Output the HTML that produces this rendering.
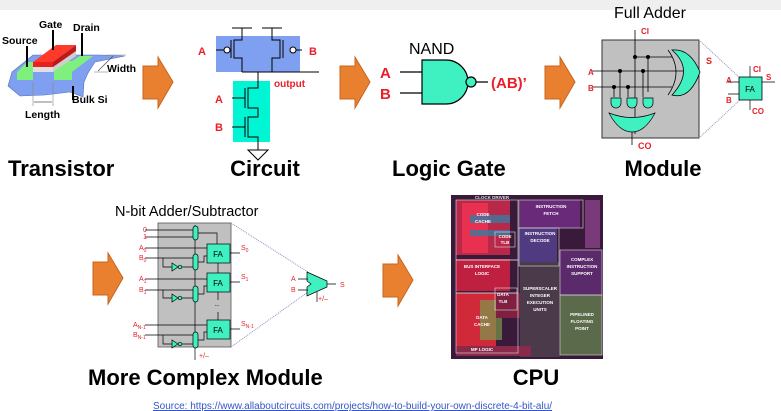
<!DOCTYPE html>
<html><head><meta charset="utf-8"><style>
html,body{margin:0;padding:0;background:#fff;width:781px;height:411px;overflow:hidden}
svg{display:block}
text{font-family:"Liberation Sans",sans-serif}
.big{font-weight:bold;font-size:22px;fill:#000}
.r{fill:#e8202a;font-weight:bold}
</style></head><body>
<svg width="781" height="411" viewBox="0 0 781 411" xmlns="http://www.w3.org/2000/svg">
<rect x="0" y="0" width="781" height="10" fill="#efefef"/>
<defs>
<polygon id="arr" points="0,9 15,9 15,0 30,25 15,51 15,42 0,42" fill="#e8802f" stroke="#c8641c" stroke-width="1"/>
</defs>
<use href="#arr" x="143" y="57"/>
<use href="#arr" x="340" y="57"/>
<use href="#arr" x="545" y="57"/>
<use href="#arr" x="93" y="253"/>
<use href="#arr" x="383" y="255"/>

<!-- Transistor -->
<path d="M12,72 L22,64 L33,55 L100,55 L125,56 L95,62 L88,73 L84,82 L83,97 L70,92 L45,95 L20,96 L8,86 Z" fill="#7f9ff0" stroke="#5570c0" stroke-width="0.6"/>
<polygon points="17,72 33,72 33,62 27,62" fill="#7ef07e"/>
<rect x="17" y="72" width="16" height="8" fill="#7ef07e"/>
<polygon points="54,72 72,72 93,56 80,56 72,61 54,61" fill="#7ef07e"/>
<rect x="54" y="72" width="18" height="8" fill="#7ef07e"/>
<rect x="33" y="67" width="20" height="5" fill="#e0e0e0"/>
<polygon points="53,67 53,72 76,56 76,51" fill="#cfcfcf"/>
<polygon points="33,62 53,62 76,45 56,45" fill="#ff3a2a"/>
<rect x="33" y="62" width="20" height="5" fill="#e82020"/>
<polygon points="53,62 76,45 76,51 53,67" fill="#c01818"/>
<line x1="27" y1="46" x2="27" y2="67" stroke="#000" stroke-width="2"/>
<line x1="53" y1="30" x2="53" y2="50" stroke="#000" stroke-width="2"/>
<line x1="82" y1="33" x2="82" y2="56" stroke="#000" stroke-width="2"/>
<line x1="73" y1="86" x2="73" y2="100" stroke="#000" stroke-width="2"/>
<line x1="106" y1="55" x2="126" y2="55" stroke="#888" stroke-width="0.6"/>
<line x1="94" y1="72" x2="108" y2="72" stroke="#888" stroke-width="0.6"/>
<line x1="98" y1="71" x2="113" y2="56" stroke="#555" stroke-width="0.8"/>
<line x1="33" y1="82" x2="33" y2="106" stroke="#888" stroke-width="0.6"/>
<line x1="53" y1="82" x2="53" y2="106" stroke="#888" stroke-width="0.6"/>
<line x1="34" y1="102" x2="52" y2="102" stroke="#555" stroke-width="0.8"/>
<text x="2" y="44" font-size="10.5" font-weight="bold">Source</text>
<text x="39" y="28" font-size="10.5" font-weight="bold">Gate</text>
<text x="73" y="31" font-size="10.5" font-weight="bold">Drain</text>
<text x="107" y="72" font-size="10.5" font-weight="bold">Width</text>
<text x="72" y="103" font-size="10.5" font-weight="bold">Bulk Si</text>
<text x="25" y="118" font-size="10.5" font-weight="bold">Length</text>
<text x="8" y="176" class="big">Transistor</text>

<!-- Circuit -->
<rect x="216" y="36" width="84" height="36" fill="#7f9ff0"/>
<rect x="233" y="81" width="37" height="61" fill="#00f5d4"/>
<g stroke="#000" stroke-width="1" fill="none">
<path d="M232,28 L252,28 M242,28 L242,40 L234,40 L234,58 L242,58 L242,72"/>
<path d="M231,40 L231,58"/>
<circle cx="227" cy="50" r="3" fill="#fff"/>
<path d="M216,50 L224,50"/>
<path d="M262,28 L282,28 M272,28 L272,40 L280,40 L280,58 L272,58 L272,72"/>
<path d="M283,40 L283,58"/>
<circle cx="293" cy="50" r="3" fill="#fff"/>
<path d="M296,50 L302,50"/>
<path d="M242,72 L319,72 M258,72 L258,88 L248,88 L248,108 L258,108 L258,117 L248,117 L248,137 L258,137 L258,150"/>
<path d="M245,88 L245,108 M232,98 L245,98 M245,117 L245,137 M232,127 L245,127"/>
<path d="M248,150 L268,150 L258,160 Z"/>
</g>
<text x="198" y="55" font-size="11" class="r">A</text>
<text x="309" y="55" font-size="11" class="r">B</text>
<text x="274" y="87" font-size="10" class="r">output</text>
<text x="215" y="103" font-size="11" class="r">A</text>
<text x="215" y="131" font-size="11" class="r">B</text>
<text x="265" y="176" class="big" text-anchor="middle">Circuit</text>

<!-- NAND -->
<text x="409" y="54" font-size="16">NAND</text>
<path d="M400,72 L422,72 M400,93 L422,93 M476,82 L488,82" stroke="#000" stroke-width="1.2"/>
<path d="M422,60 L446,60 A22,22 0 0 1 446,104 L422,104 Z" fill="#3ff0c0" stroke="#000" stroke-width="1.2"/>
<circle cx="471" cy="82" r="5" fill="#3ff0c0" stroke="#000" stroke-width="1.2"/>
<text x="380" y="78" font-size="15" class="r">A</text>
<text x="380" y="99" font-size="15" class="r">B</text>
<text x="491" y="88" font-size="15" class="r">(AB)’</text>
<text x="392" y="176" class="big">Logic Gate</text>

<!-- Module -->
<text x="650" y="18" font-size="16" text-anchor="middle">Full Adder</text>
<rect x="602" y="40" width="97" height="98" fill="#c0c0c0" stroke="#333" stroke-width="1"/>
<line x1="699" y1="40" x2="740" y2="78" stroke="#9090c0" stroke-dasharray="1,1"/>
<line x1="699" y1="138" x2="740" y2="100" stroke="#9090c0" stroke-dasharray="1,1"/>
<g stroke="#000" stroke-width="0.8" fill="none">
<path d="M635,30 L635,134 M635,57 L672,57 M648,57 L648,92"/>
<path d="M592,71 L697,71 M620,71 L620,97 M643,71 L643,97"/>
<path d="M592,87 L672,87 M614,87 L614,97 M628,87 L628,97"/>
<path d="M632,117 L632,145"/>
</g>
<path d="M672,50 Q695,70 672,95 Q690,100 700,72 Q690,48 672,50 Z" fill="#3ff0c0" stroke="#000" stroke-width="0.8"/>
<path d="M668,50 Q684,72 668,95" fill="none" stroke="#000" stroke-width="0.8"/>
<g fill="#3ff0c0" stroke="#000" stroke-width="0.7">
<path d="M611,98 L621,98 L621,103 A5,5 0 0 1 611,103 Z"/>
<path d="M627,98 L637,98 L637,103 A5,5 0 0 1 627,103 Z"/>
<path d="M643,98 L653,98 L653,103 A5,5 0 0 1 643,103 Z"/>
<path d="M609,113 Q632,122 655,113 Q645,132 632,132 Q619,132 609,113 Z"/>
</g>
<g fill="#000"><circle cx="635" cy="57" r="2"/><circle cx="648" cy="57" r="2"/><circle cx="620" cy="71" r="2"/><circle cx="643" cy="71" r="2"/><circle cx="614" cy="87" r="2"/><circle cx="628" cy="87" r="2"/></g>
<text x="641" y="34" font-size="8" class="r">CI</text>
<text x="588" y="75" font-size="8" class="r">A</text>
<text x="588" y="91" font-size="8" class="r">B</text>
<text x="706" y="64" font-size="9" class="r">S</text>
<text x="638" y="149" font-size="9" class="r">CO</text>
<rect x="739" y="77" width="23" height="23" fill="#3ff0c0" stroke="#000" stroke-width="0.8"/>
<text x="750" y="92" font-size="8" text-anchor="middle">FA</text>
<path d="M728,82 L739,82 M728,94 L739,94 M750,66 L750,77 M762,82 L775,82 M750,100 L750,110" stroke="#000" stroke-width="0.7"/>
<text x="726" y="83" font-size="8" class="r">A</text>
<text x="726" y="103" font-size="8" class="r">B</text>
<text x="753" y="72" font-size="8" class="r">CI</text>
<text x="766" y="80" font-size="8" class="r">S</text>
<text x="752" y="114" font-size="8" class="r">CO</text>
<text x="663" y="176" class="big" text-anchor="middle">Module</text>

<!-- N-bit adder -->
<text x="115" y="216" font-size="14.5">N-bit Adder/Subtractor</text>
<rect x="158" y="223" width="73" height="124" fill="#c0c0c0" stroke="#555" stroke-width="0.8"/>
<line x1="231" y1="223" x2="308" y2="272" stroke="#9090c0" stroke-dasharray="1,1"/>
<line x1="231" y1="347" x2="308" y2="292" stroke="#9090c0" stroke-dasharray="1,1"/>
<g stroke="#000" stroke-width="0.7" fill="none">
<path d="M145,230 L193,230 M145,237 L193,237 M198,233 L217,233 L217,244"/>
<path d="M145,248 L207,248 M145,258 L163,258 L163,267 L172,267 M180,267 L193,267 M163,258 L193,258 M198,262 L204,262 L204,256 L207,256"/>
<path d="M145,279 L207,279 M145,290 L163,290 L163,298 L172,298 M180,298 L193,298 M163,290 L193,290 M198,294 L204,294 L204,286 L207,286"/>
<path d="M145,325 L207,325 M145,335 L163,335 L163,344 L172,344 M180,344 L193,344 M163,335 L193,335 M198,340 L204,340 L204,332 L207,332"/>
<path d="M195,225 L195,360 M218,263 L218,273 M218,291 L218,300 M218,312 L218,320"/>
<path d="M230,253 L240,253 M230,282 L240,282 M230,329 L240,329"/>
</g>
<g fill="#3ff0c0" stroke="#000" stroke-width="0.7">
<rect x="193" y="226" width="5" height="14" rx="2.5"/>
<rect x="193" y="254" width="5" height="16" rx="2.5"/>
<rect x="193" y="286" width="5" height="16" rx="2.5"/>
<rect x="193" y="332" width="5" height="16" rx="2.5"/>
<path d="M172,263 L178,267 L172,271 Z"/><circle cx="180" cy="267" r="1.8"/>
<path d="M172,294 L178,298 L172,302 Z"/><circle cx="180" cy="298" r="1.8"/>
<path d="M172,340 L178,344 L172,348 Z"/><circle cx="180" cy="344" r="1.8"/>
<rect x="207" y="244" width="23" height="19"/>
<rect x="207" y="273" width="23" height="19"/>
<rect x="207" y="320" width="23" height="19"/>
</g>
<text x="218" y="257" font-size="8" text-anchor="middle">FA</text>
<text x="218" y="286" font-size="8" text-anchor="middle">FA</text>
<text x="218" y="333" font-size="8" text-anchor="middle">FA</text>
<text x="217" y="306" font-size="6" text-anchor="middle">...</text>
<g font-size="7" fill="#e8202a">
<text x="143" y="232">0</text><text x="143" y="239">1</text>
<text x="139" y="250">A<tspan font-size="5" dy="2">0</tspan></text>
<text x="139" y="260">B<tspan font-size="5" dy="2">0</tspan></text>
<text x="139" y="281">A<tspan font-size="5" dy="2">1</tspan></text>
<text x="139" y="292">B<tspan font-size="5" dy="2">1</tspan></text>
<text x="133" y="327">A<tspan font-size="5" dy="2">N-1</tspan></text>
<text x="133" y="337">B<tspan font-size="5" dy="2">N-1</tspan></text>
<text x="241" y="250">S<tspan font-size="5" dy="2">0</tspan></text>
<text x="241" y="279">S<tspan font-size="5" dy="2">1</tspan></text>
<text x="241" y="326">S<tspan font-size="5" dy="2">N-1</tspan></text>
<text x="199" y="358">+/–</text>
<text x="291" y="281">A</text><text x="291" y="292">B</text>
<text x="340" y="287">S</text><text x="318" y="301">+/–</text>
</g>
<path d="M307,272 L327,281 L327,287 L307,296 L307,287 L311,284 L307,281 Z" fill="#3ff0c0" stroke="#000" stroke-width="0.7"/>
<path d="M298,279 L308,279 M298,290 L308,290 M327,284 L336,284 M317,292 L317,302" stroke="#000" stroke-width="0.7"/>
<text x="88" y="385" class="big">More Complex Module</text>

<!-- CPU -->
<rect x="451" y="195" width="152" height="164" fill="#3a1a3a"/>
<rect x="456" y="200" width="54" height="55" fill="#b82848"/>
<rect x="462" y="203" width="26" height="50" fill="#e83050"/>
<rect x="470" y="215" width="40" height="8" fill="#3a7aa0" opacity="0.8"/>
<rect x="470" y="230" width="40" height="6" fill="#3a7aa0" opacity="0.8"/>
<rect x="456" y="259" width="54" height="32" fill="#c02040"/>
<rect x="456" y="293" width="40" height="55" fill="#d02a3a"/>
<rect x="480" y="300" width="22" height="40" fill="#7a9a4a" opacity="0.7"/>
<rect x="496" y="293" width="24" height="25" fill="#802040"/>
<rect x="520" y="200" width="60" height="28" fill="#6a2a7a"/>
<rect x="519" y="228" width="38" height="38" fill="#503a80"/>
<rect x="520" y="262" width="40" height="95" fill="#4a3a4a"/>
<rect x="560" y="250" width="42" height="45" fill="#5a2a6a"/>
<rect x="560" y="295" width="42" height="60" fill="#5a6a4a"/>
<rect x="585" y="200" width="15" height="48" fill="#7a3a7a"/>
<rect x="456" y="346" width="75" height="10" fill="#8a2a4a"/>
<g fill="none" stroke="#ddd" stroke-width="0.6">
<rect x="456" y="200" width="62" height="60"/><rect x="456" y="260" width="62" height="33"/>
<rect x="456" y="293" width="62" height="60"/><rect x="519" y="200" width="64" height="28"/>
<rect x="519" y="228" width="40" height="38"/><rect x="560" y="250" width="42" height="45"/>
<rect x="560" y="295" width="42" height="60"/><rect x="495" y="232" width="20" height="15"/>
<rect x="495" y="288" width="22" height="22"/>
</g>
<g font-size="4.5" fill="#fff" font-weight="bold" text-anchor="middle">
<text x="492" y="199" fill="#ddd">CLOCK DRIVER</text>
<text x="483" y="216">CODE</text><text x="483" y="223">CACHE</text>
<text x="505" y="238">CODE</text><text x="505" y="244">TLB</text>
<text x="551" y="208">INSTRUCTION</text><text x="551" y="215">FETCH</text>
<text x="540" y="235">INSTRUCTION</text><text x="540" y="242">DECODE</text>
<text x="482" y="268">BUS INTERFACE</text><text x="482" y="275">LOGIC</text>
<text x="503" y="296">DATA</text><text x="503" y="303">TLB</text>
<text x="540" y="290">SUPERSCALER</text><text x="540" y="297">INTEGER</text><text x="540" y="304">EXECUTION</text><text x="540" y="311">UNITS</text>
<text x="582" y="261">COMPLEX</text><text x="582" y="268">INSTRUCTION</text><text x="582" y="275">SUPPORT</text>
<text x="482" y="319">DATA</text><text x="482" y="326">CACHE</text>
<text x="582" y="316">PIPELINED</text><text x="582" y="323">FLOATING</text><text x="582" y="330">POINT</text>
<text x="482" y="351">MP LOGIC</text>
</g>
<text x="536" y="385" class="big" text-anchor="middle">CPU</text>

<text x="153" y="409" font-size="10" fill="#3355cc" text-decoration="underline">Source: https://www.allaboutcircuits.com/projects/how-to-build-your-own-discrete-4-bit-alu/</text>
</svg>
</body></html>
